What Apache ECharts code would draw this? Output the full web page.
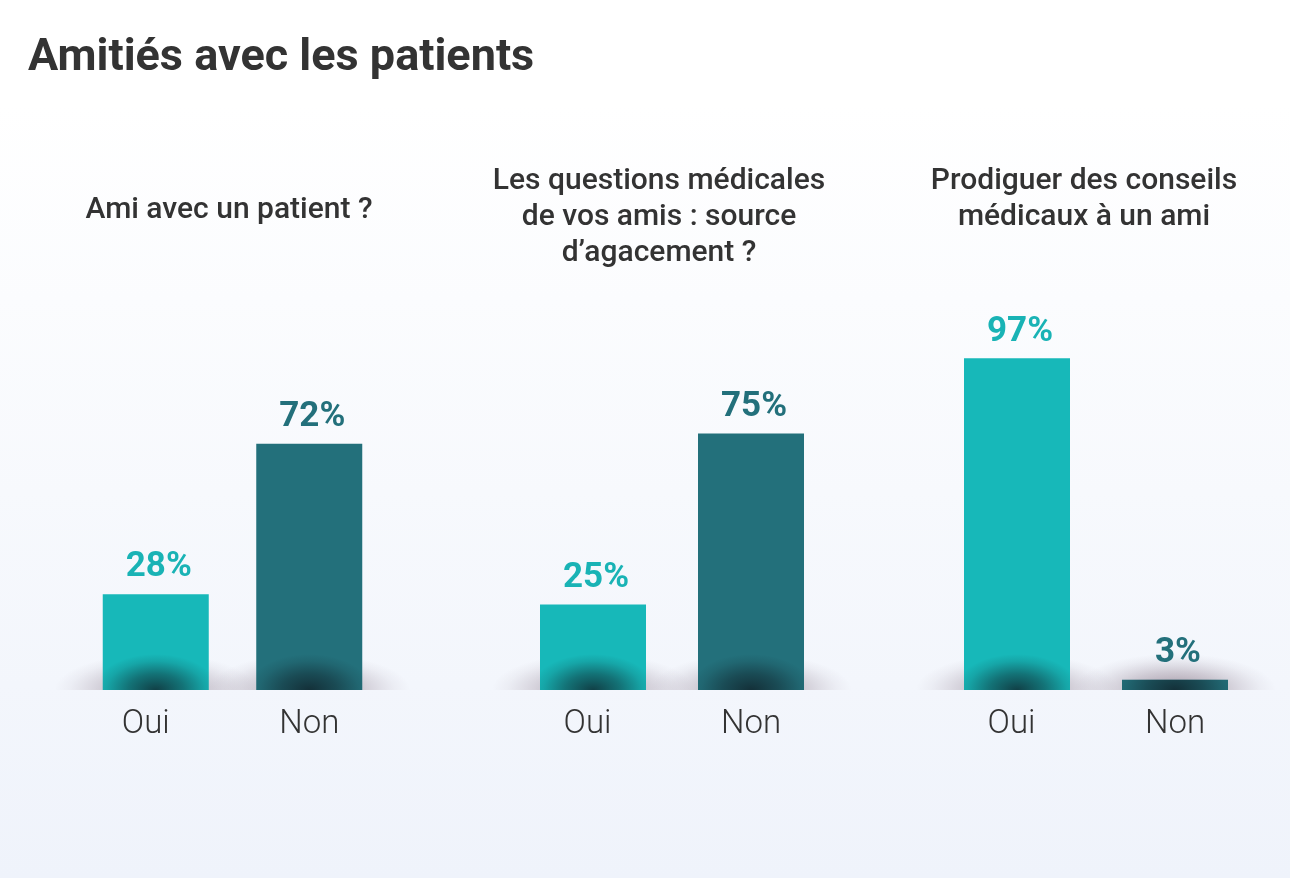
<!DOCTYPE html>
<html>
<head>
<meta charset="utf-8">
<script src="https://cdn.jsdelivr.net/npm/echarts@6/dist/echarts.min.js"></script>
<style>
html, body { margin: 0; padding: 0; }
#chart { width: 1290px; height: 878px; }
</style>
</head>
<body>
<div id="chart"></div>
<script>
const categories = ['Oui', 'Non']
const questions = [
    'Ami avec un patient ?',
    'Les questions médicales\nde vos amis : source\nd’agacement ?',
    'Prodiguer des conseils\nmédicaux à un ami'
]
const ouiValues = [28, 25, 97]
const nonValues = [72, 75, 3]

const ouiColor = '#17b8b9'
const nonColor = '#23707b'
const barW = 106

// grid placement for each small chart
const grids = [
    { left: 79, width: 307 },
    { left: 514, width: 316 },
    { left: 938, width: 316 }
]
const qCenters = [224, 654, 1079]
const qTops = [187, 158, 158]

const charts = echarts.init(document.getElementById('chart'))

function backShadow(params, api) {
    const p = api.coord([api.value(0), 0])
    const R = barW / 2 + 48
    return {
        type: 'rect',
        shape: { x: p[0] - R, y: p[1] - R, width: 2 * R, height: R },
        originX: p[0],
        originY: p[1],
        scaleY: 0.36,
        style: {
            fill: new echarts.graphic.RadialGradient(0.5, 1, 1, [
                { offset: 0, color: 'rgba(80,50,72,0.5)' },
                { offset: 0.5, color: 'rgba(100,75,95,0.26)' },
                { offset: 0.85, color: 'rgba(120,100,120,0.06)' },
                { offset: 1, color: 'rgba(120,100,120,0)' }
            ])
        },
        silent: true
    }
}

function frontShadow(params, api) {
    const base = api.coord([api.value(0), 0])
    const top = api.coord([api.value(0), api.value(1)])
    const sY = 0.58
    const R = 62
    const hv = Math.min(base[1] - top[1], R * sY)
    return {
        type: 'rect',
        shape: { x: base[0] - barW / 2, y: base[1] - hv / sY, width: barW, height: hv / sY },
        originX: base[0],
        originY: base[1],
        scaleY: sY,
        style: {
            fill: new echarts.graphic.RadialGradient(base[0], base[1], R, [
                { offset: 0, color: 'rgba(15,30,38,0.78)' },
                { offset: 0.45, color: 'rgba(15,30,38,0.45)' },
                { offset: 0.8, color: 'rgba(15,30,38,0.12)' },
                { offset: 1, color: 'rgba(15,30,38,0)' }
            ], true)
        },
        silent: true
    }
}

const gridOpt = [], xAxes = [], yAxes = [], series = [], titles = []

titles.push({
    text: 'Amitiés avec les patients',
    left: 23,
    top: 27,
    textStyle: { fontFamily: 'Roboto', fontSize: 45, fontWeight: 'bold', color: '#333333', lineHeight: 54 }
})

grids.forEach((g, i) => {
    gridOpt.push({ left: g.left, width: g.width, top: 348, height: 342 })
    xAxes.push({
        type: 'category',
        gridIndex: i,
        data: [
            { value: categories[0], textStyle: { padding: [0, i === 0 ? 20 : 11, 0, 0] } },
            { value: categories[1] }
        ],
        axisLine: { show: false },
        axisTick: { show: false },
        axisLabel: { fontFamily: 'Roboto', fontSize: 33, fontWeight: 300, color: '#333333', margin: 18 }
    })
    yAxes.push({ type: 'value', gridIndex: i, min: 0, max: 100, show: false, splitLine: { show: false } })

    const vals = [ouiValues[i], nonValues[i]]
    const pairs = vals.map((v, k) => [k, v])

    series.push({
        type: 'custom',
        xAxisIndex: i,
        yAxisIndex: i,
        z: 1,
        renderItem: backShadow,
        data: pairs
    })
    series.push({
        type: 'bar',
        xAxisIndex: i,
        yAxisIndex: i,
        z: 2,
        barWidth: barW,
        data: vals.map((v, k) => ({
            value: v,
            itemStyle: { color: k === 0 ? ouiColor : nonColor },
            label: { color: k === 0 ? '#19b3b5' : '#23707b' }
        })),
        label: {
            show: true,
            position: 'top',
            distance: 9,
            offset: [3, 0],
            formatter: '{c}%',
            fontFamily: 'Roboto',
            fontSize: 35,
            fontWeight: 'bold'
        }
    })
    series.push({
        type: 'custom',
        xAxisIndex: i,
        yAxisIndex: i,
        z: 3,
        renderItem: frontShadow,
        data: pairs
    })

    titles.push({
        text: questions[i],
        left: qCenters[i],
        top: qTops[i],
        textAlign: 'center',
        textStyle: { fontFamily: 'Roboto', fontSize: 30, fontWeight: 500, color: '#333333', lineHeight: 36, align: 'center' }
    })
})

charts.setOption({
    backgroundColor: new echarts.graphic.LinearGradient(0, 0, 0, 1, [
        { offset: 0, color: '#ffffff' },
        { offset: 0.12, color: '#ffffff' },
        { offset: 1, color: '#eff3fb' }
    ]),
    animation: false,
    title: titles,
    grid: gridOpt,
    xAxis: xAxes,
    yAxis: yAxes,
    series: series
})
</script>
</body>
</html>
